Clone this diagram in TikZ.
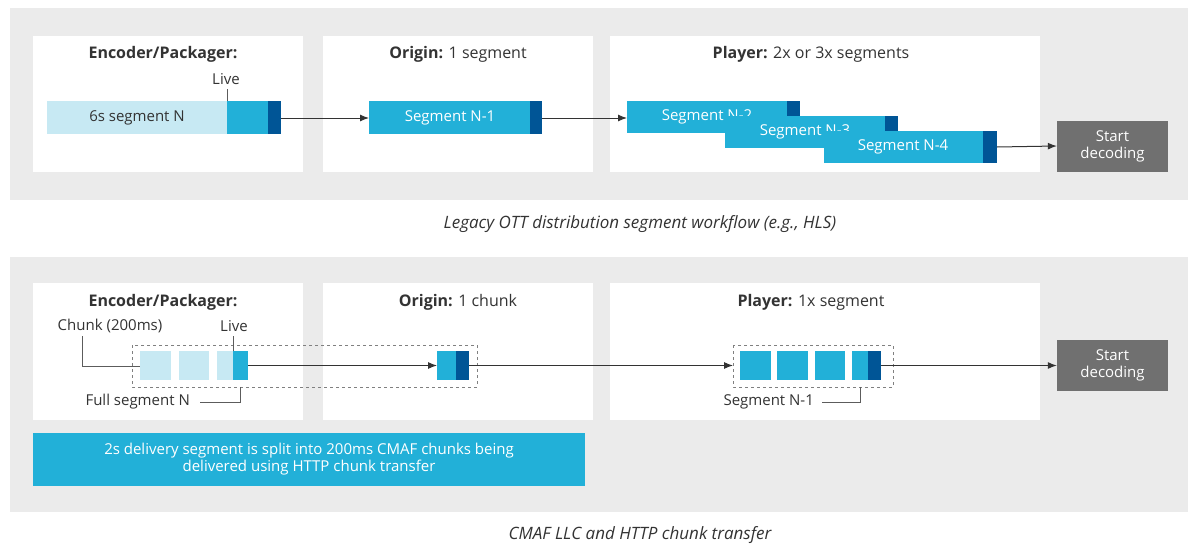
\documentclass[tikz,border=0pt]{standalone}
\usepackage{fontspec}
\setmainfont{Open Sans}
\usetikzlibrary{arrows.meta}
\definecolor{band}{HTML}{EBEBEB}
\definecolor{mid}{HTML}{22B0D8}
\definecolor{dark}{HTML}{005596}
\definecolor{light}{HTML}{C7E9F3}
\definecolor{startg}{HTML}{707070}
\definecolor{txt}{HTML}{333333}
\tikzset{
 panel/.style={fill=white,draw=none},
 ttl/.style={font=\fontsize{16}{19}\selectfont,text=txt},
 lbl/.style={font=\fontsize{15}{18}\selectfont,text=txt},
 seglbl/.style={font=\fontsize{15}{18}\selectfont,text=white},
 arr/.style={draw=txt,line width=1pt,-{Latex[length=9pt,width=7pt]}},
 thin/.style={draw=txt!80,line width=0.8pt},
 dbox/.style={draw=gray,dashed,line width=1pt},
 startbox/.style={fill=startg,text=white,align=center,font=\fontsize{15}{17}\selectfont,inner sep=0pt,minimum width=111pt,minimum height=51pt},
 captxt/.style={font=\itshape\fontsize{17}{20}\selectfont,text=txt}
}
\begin{document}
\begin{tikzpicture}[x=1pt,y=-1pt]
\useasboundingbox (0,0) rectangle (1200,554);
\fill[white] (0,0) rectangle (1200,554);
% top band
\fill[band] (10,8) rectangle (1188,200);
\fill[panel] (33,36) rectangle (303,172);
\fill[panel] (323,36) rectangle (593,172);
\fill[panel] (610,36) rectangle (1040,172);
\node[ttl] (t1) at (163,54) {\textbf{Encoder/Packager:}};
\node[ttl] (t2) at (458,54) {\textbf{Origin:} 1 segment};
\node[ttl] (t3) at (811,54) {\textbf{Player:} 2x or 3x segments};
\fill[light] (47,101) rectangle (227,134);
\fill[mid] (227,101) rectangle (268,134);
\fill[dark] (268,101) rectangle (281,134);
\node[lbl] (s6) at (137,118) {6s segment N};
\coordinate (e1) at (281,118);
\node[lbl] (live1) at (226,79) {Live};
\draw[thin] (227,89) -- (227,101);
\fill[mid] (369,101) rectangle (530,134);
\fill[dark] (530,101) rectangle (542,134);
\node[seglbl] (o1) at (450,118) {Segment N-1};
\coordinate (o1l) at (369,118);
\coordinate (o1r) at (542,118);
\draw[arr] (e1) -- (o1l);
\fill[mid] (627,101) rectangle (787,133);
\fill[dark] (787,101) rectangle (800,133);
\node[seglbl] (p1) at (707,117) {Segment N-2};
\fill[mid] (725,116) rectangle (885,148);
\fill[dark] (885,116) rectangle (898,148);
\node[seglbl] (p2) at (805,132) {Segment N-3};
\fill[mid] (824,131) rectangle (983,163);
\fill[dark] (983,131) rectangle (997,163);
\node[seglbl] (p3) at (903,147) {Segment N-4};
\draw[arr] (o1r) -- (627,118);
\node[startbox] (sd1) at (1112.5,146) {Start\\decoding};
\coordinate (p3r) at (997,147);
\draw[arr] (p3r) -- (sd1.west);
\node[captxt] (c1) at (640,224) {Legacy OTT distribution segment workflow (e.g., HLS)};
% bottom band
\fill[band] (10,257) rectangle (1188,512);
\fill[panel] (33,283) rectangle (303,420);
\fill[panel] (323,283) rectangle (593,420);
\fill[panel] (610,283) rectangle (1040,420);
\node[ttl] (b1) at (163,302) {\textbf{Encoder/Packager:}};
\node[ttl] (b2) at (458,302) {\textbf{Origin:} 1 chunk};
\node[ttl] (b3) at (811,302) {\textbf{Player:} 1x segment};
\node[lbl] (ch) at (110,326) {Chunk (200ms)};
\node[lbl] (live2) at (234,326) {Live};
\draw[dbox] (132,345) rectangle (477,387);
\fill[light] (140,351) rectangle (171,380);
\fill[light] (179,351) rectangle (209,380);
\fill[light] (217,351) rectangle (233,380);
\fill[mid] (233,351) rectangle (248,380);
\draw[thin] (82,336) -- (82,366) -- (140,366);
\draw[thin] (233,336) -- (233,351);
\node[lbl,anchor=west] (fs) at (82,402) {Full segment N};
\draw[thin] (200,402) -- (240,402) -- (240,387);
\fill[mid] (437,351) rectangle (456,380);
\fill[dark] (456,351) rectangle (469,380);
\draw[arr] (248,365.5) -- (437,365.5);
\draw[dbox] (733,345) rectangle (893,387);
\fill[mid] (740,351) rectangle (771,380);
\fill[mid] (777,351) rectangle (808,380);
\fill[mid] (815,351) rectangle (845,380);
\fill[mid] (852,351) rectangle (868,380);
\fill[dark] (868,351) rectangle (881,380);
\draw[arr] (469,365.5) -- (733,365.5);
\node[lbl,anchor=west] (sn1) at (720,402) {Segment N-1};
\draw[thin] (822,402) -- (860,402) -- (860,387);
\node[startbox] (sd2) at (1112.5,365.5) {Start\\decoding};
\draw[arr] (881,365.5) -- (sd2.west);
\fill[mid] (33,433) rectangle (585,486);
\node[seglbl,align=center,font=\fontsize{15}{17}\selectfont] (ban) at (309,459.5) {2s delivery segment is split into 200ms CMAF chunks being\\delivered using HTTP chunk transfer};
\node[captxt] (c2) at (640,535) {CMAF LLC and HTTP chunk transfer};
\end{tikzpicture}
\end{document}
